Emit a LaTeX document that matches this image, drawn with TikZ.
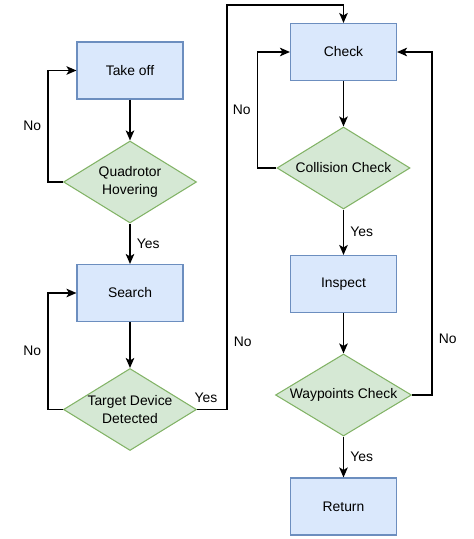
\documentclass[tikz,border=0pt]{standalone}
\usepackage{fontspec}
\setmainfont{Liberation Sans}
\usetikzlibrary{shapes.geometric,positioning,arrows.meta}
\definecolor{boxfill}{HTML}{DAE8FC}
\definecolor{boxline}{HTML}{6C8EBF}
\definecolor{decfill}{HTML}{D5E8D4}
\definecolor{decline}{HTML}{82B366}

\begin{document}
\begin{tikzpicture}[node distance=2.23cm,on grid,auto,>={Stealth[length=0.2cm,width=0.17cm,inset=0.05cm]},
  font=\fontsize{7.9}{10.2}\selectfont,
  block/.style={rectangle,draw=boxline,fill=boxfill,line width=0.6pt,minimum width=2.12cm,minimum height=1.14cm},
  decision/.style={diamond,shape aspect=1.62,draw=decline,fill=decfill,line width=0.6pt,minimum width=2.66cm,minimum height=1.64cm,inner sep=0pt,align=center},
  flow/.style={draw,->,line width=1.1pt}]
		\useasboundingbox (-2.6,1.41) rectangle (6.88,-9.37);
		\node[block] (takeoff) at (0,0) {Take off};
		\node[decision] (hover) [below=of takeoff] {Quadrotor\\Hovering};
		\node[block] (search) [below=2.22cm of hover] {Search};
		\node[decision] (target) [below=2.33cm of search] {Target Device\\Detected};
		\node[block] (check) [above right=0.37cm and 4.27cm of takeoff] {Check};
		\node[decision] (collide) [below=2.32cm of check] {Collision Check};
		\node[block] (inspect) [below=2.32cm of collide] {Inspect};
		\node[decision,minimum width=2.72cm] (waypts) [below=2.22cm of inspect] {Waypoints Check};
		\node[block] (return) [below=of waypts] {Return};
		\path[flow]
		(takeoff) edge (hover)
		(hover) edge node {Yes} (search)
		(search) edge (target)
		(check) edge (collide)
		(collide) edge node {Yes} (inspect)
		(inspect) edge (waypts)
		(waypts) edge node {Yes} (return);
		\draw[flow] (hover.west) -- ++(-0.3,0) |- node[pos=0.25] {No} (takeoff.west);
		\draw[flow] (target.west) -- ++(-0.3,0) |- node[pos=0.25] {No} (search.west);
		\draw[flow] (target.east) -- node[above,pos=0.3] {Yes} ++(0.6,0)
		|- node[pos=0.084,right] {No} ([yshift=0.36cm]check.north) -- (check.north);
		\draw[flow] (collide.west) -- ++(-0.38,0) |- node[pos=0.25] {No} (check.west);
		\draw[flow] (waypts.east) -- ++(0.4,0) |- node[pos=0.082,right] {No} (check.east);
\end{tikzpicture}
\end{document}
